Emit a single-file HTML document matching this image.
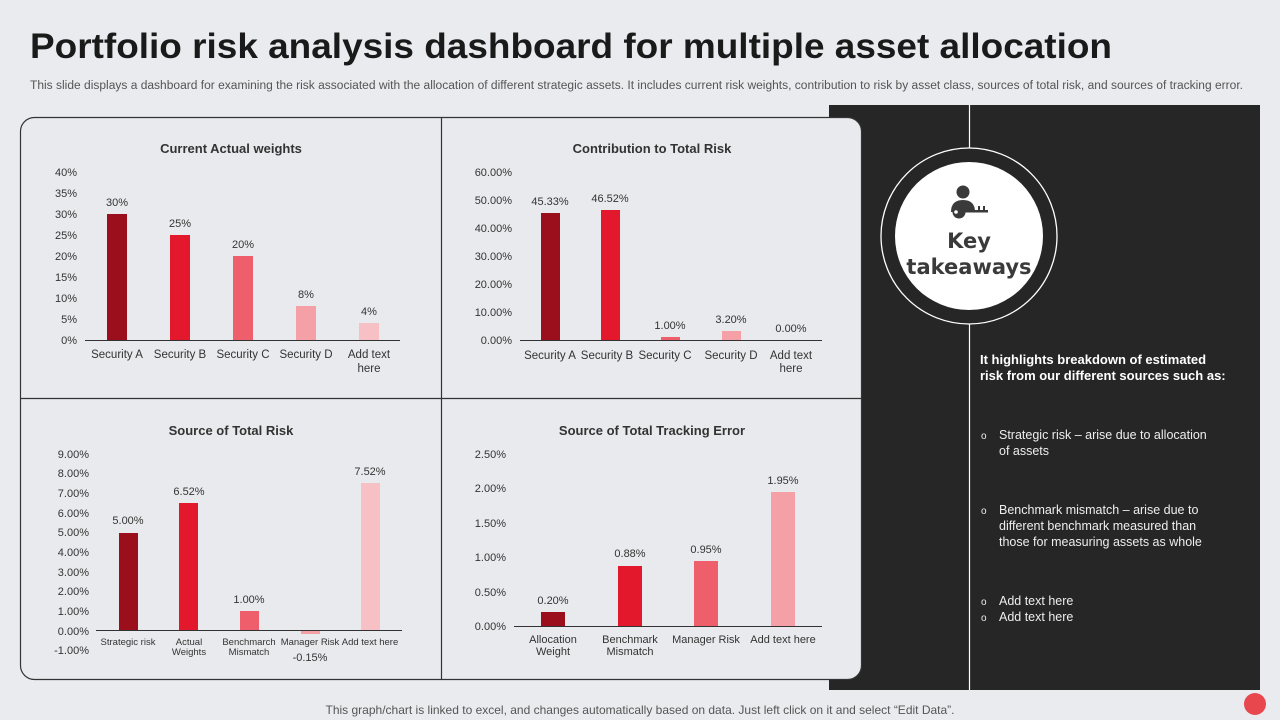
<!DOCTYPE html>
<html><head><meta charset="utf-8"><style>
html,body{margin:0;padding:0;background:#e9ebee;width:1280px;height:720px;overflow:hidden}
svg{display:block}
</style></head><body>
<svg width="1280" height="720" xmlns="http://www.w3.org/2000/svg" font-family="Liberation Sans, Arial, sans-serif">
<rect width="1280" height="720" fill="#e9ebee"/>
<text x="30" y="58" font-size="35" font-weight="bold" fill="#1a1a1a" textLength="1082" lengthAdjust="spacingAndGlyphs">Portfolio risk analysis dashboard for multiple asset allocation</text>
<text x="30" y="89" font-size="11.5" fill="#555" textLength="1213" lengthAdjust="spacingAndGlyphs">This slide displays a dashboard for examining the risk associated with the allocation of different strategic assets. It includes current risk weights, contribution to risk by asset class, sources of total risk, and sources of tracking error.</text>
<rect x="829" y="105" width="431" height="585" fill="#262626"/>
<line x1="969.5" y1="105" x2="969.5" y2="690" stroke="#fff" stroke-width="1.2"/>
<circle cx="969" cy="236" r="88" fill="#262626" stroke="#fff" stroke-width="1.3"/>
<circle cx="969" cy="236" r="74" fill="#fff"/>
<circle cx="963" cy="192" r="6.5" fill="#3a3a3a"/>
<path d="M951 212 q0-12 12-12 q12 0 12 12 z" fill="#3a3a3a"/>
<circle cx="959" cy="212" r="6.5" fill="#3a3a3a"/>
<circle cx="956" cy="212" r="1.8" fill="#fff"/>
<rect x="964" y="210" width="24" height="2.5" fill="#3a3a3a"/>
<rect x="978" y="206" width="2" height="5" fill="#3a3a3a"/><rect x="983" y="206" width="2" height="5" fill="#3a3a3a"/>
<text x="969" y="248" font-size="21" font-weight="bold" fill="#3a3a3a" text-anchor="middle" font-family="DejaVu Sans, sans-serif">Key</text>
<text x="969" y="274" font-size="21" font-weight="bold" fill="#3a3a3a" text-anchor="middle" font-family="DejaVu Sans, sans-serif">takeaways</text>
<g font-size="13" fill="#fff" font-weight="bold">
<text x="980" y="364">It highlights breakdown of estimated</text>
<text x="980" y="380">risk from our different sources such as:</text>
</g>
<g font-size="12.5" fill="#eee">
<text x="981" y="439" font-size="10">o</text><text x="999" y="439">Strategic risk – arise due to allocation</text>
<text x="999" y="455">of assets</text>
<text x="981" y="514" font-size="10">o</text><text x="999" y="514">Benchmark mismatch – arise due to</text>
<text x="999" y="530">different benchmark measured than</text>
<text x="999" y="546">those for measuring assets as whole</text>
<text x="981" y="605" font-size="10">o</text><text x="999" y="605">Add text here</text>
<text x="981" y="621" font-size="10">o</text><text x="999" y="621">Add text here</text>
</g>
<rect x="20.5" y="117.5" width="841" height="562" rx="14" fill="#e8eaed" stroke="#333" stroke-width="1.2"/>
<line x1="441.5" y1="117" x2="441.5" y2="680" stroke="#333" stroke-width="1.2"/>
<line x1="21" y1="398.5" x2="861" y2="398.5" stroke="#333" stroke-width="1.2"/>

<g font-size="11" fill="#333">
<text x="231" y="153" font-size="13" font-weight="bold" text-anchor="middle">Current Actual weights</text>
<g text-anchor="end">
<text x="77" y="176">40%</text><text x="77" y="197">35%</text><text x="77" y="218">30%</text><text x="77" y="239">25%</text><text x="77" y="260">20%</text><text x="77" y="281">15%</text><text x="77" y="302">10%</text><text x="77" y="323">5%</text><text x="77" y="344">0%</text>
</g>
<rect x="107" y="214" width="20" height="126" fill="#9b0e1c"/>
<rect x="170" y="235" width="20" height="105" fill="#e3182d"/>
<rect x="233" y="256" width="20" height="84" fill="#ef5f6b"/>
<rect x="296" y="306" width="20" height="34" fill="#f4a0a6"/>
<rect x="359" y="323" width="20" height="17" fill="#f7c0c4"/>
<line x1="85" y1="340.5" x2="400" y2="340.5" stroke="#333"/>
<g text-anchor="middle">
<text x="117" y="206">30%</text><text x="180" y="227">25%</text><text x="243" y="248">20%</text><text x="306" y="298">8%</text><text x="369" y="315">4%</text>
<g font-size="11.5"><text x="117" y="358">Security A</text><text x="180" y="358">Security B</text><text x="243" y="358">Security C</text><text x="306" y="358">Security D</text><text x="369" y="358">Add text</text><text x="369" y="372">here</text></g>
</g>
</g>

<g font-size="11" fill="#333">
<text x="652" y="153" font-size="13" font-weight="bold" text-anchor="middle">Contribution  to Total Risk</text>
<g text-anchor="end">
<text x="512" y="176">60.00%</text><text x="512" y="204">50.00%</text><text x="512" y="232">40.00%</text><text x="512" y="260">30.00%</text><text x="512" y="288">20.00%</text><text x="512" y="316">10.00%</text><text x="512" y="344">0.00%</text>
</g>
<rect x="541" y="213" width="19" height="127" fill="#9b0e1c"/>
<rect x="601" y="210" width="19" height="130" fill="#e3182d"/>
<rect x="661" y="337" width="19" height="3" fill="#ef5f6b"/>
<rect x="722" y="331" width="19" height="9" fill="#f4a0a6"/>
<line x1="520" y1="340.5" x2="822" y2="340.5" stroke="#333"/>
<g text-anchor="middle">
<text x="550" y="205">45.33%</text><text x="610" y="202">46.52%</text><text x="670" y="329">1.00%</text><text x="731" y="323">3.20%</text><text x="791" y="332">0.00%</text>
<g font-size="11.5"><text x="550" y="359">Security A</text><text x="607" y="359">Security B</text><text x="665" y="359">Security C</text><text x="731" y="359">Security D</text><text x="791" y="359">Add text</text><text x="791" y="372">here</text></g>
</g>
</g>

<g font-size="11" fill="#333">
<text x="231" y="435" font-size="13" font-weight="bold" text-anchor="middle">Source of Total Risk</text>
<g text-anchor="end">
<text x="89" y="458">9.00%</text><text x="89" y="477">8.00%</text><text x="89" y="497">7.00%</text><text x="89" y="517">6.00%</text><text x="89" y="536">5.00%</text><text x="89" y="556">4.00%</text><text x="89" y="576">3.00%</text><text x="89" y="595">2.00%</text><text x="89" y="615">1.00%</text><text x="89" y="635">0.00%</text><text x="89" y="654">-1.00%</text>
</g>
<rect x="119" y="533" width="19" height="97" fill="#9b0e1c"/>
<rect x="179" y="503" width="19" height="127" fill="#e3182d"/>
<rect x="240" y="611" width="19" height="19" fill="#ef5f6b"/>
<rect x="301" y="630" width="19" height="4" fill="#f4a0a6"/>
<rect x="361" y="483" width="19" height="147" fill="#f7c0c4"/>
<line x1="96" y1="630.5" x2="402" y2="630.5" stroke="#333"/>
<g text-anchor="middle">
<text x="128" y="524">5.00%</text><text x="189" y="495">6.52%</text><text x="249" y="603">1.00%</text><text x="370" y="475">7.52%</text><text x="310" y="661">-0.15%</text>
<g font-size="9.5"><text x="128" y="645">Strategic risk</text><text x="189" y="645">Actual</text><text x="189" y="655">Weights</text><text x="249" y="645">Benchmarch</text><text x="249" y="655">Mismatch</text><text x="310" y="645">Manager Risk</text><text x="370" y="645">Add text here</text></g>
</g>
</g>

<g font-size="11" fill="#333">
<text x="652" y="435" font-size="13" font-weight="bold" text-anchor="middle">Source of Total Tracking Error</text>
<g text-anchor="end">
<text x="506" y="458">2.50%</text><text x="506" y="492">2.00%</text><text x="506" y="527">1.50%</text><text x="506" y="561">1.00%</text><text x="506" y="596">0.50%</text><text x="506" y="630">0.00%</text>
</g>
<rect x="541" y="612" width="24" height="14" fill="#9b0e1c"/>
<rect x="618" y="566" width="24" height="60" fill="#e3182d"/>
<rect x="694" y="561" width="24" height="65" fill="#ef5f6b"/>
<rect x="771" y="492" width="24" height="134" fill="#f4a0a6"/>
<line x1="514" y1="626.5" x2="822" y2="626.5" stroke="#333"/>
<g text-anchor="middle">
<text x="553" y="604">0.20%</text><text x="630" y="557">0.88%</text><text x="706" y="553">0.95%</text><text x="783" y="484">1.95%</text>
<text x="553" y="643">Allocation</text><text x="553" y="655">Weight</text><text x="630" y="643">Benchmark</text><text x="630" y="655">Mismatch</text><text x="706" y="643">Manager Risk</text><text x="783" y="643">Add text here</text>
</g>
</g>

<text x="640" y="714" font-size="12" fill="#555" text-anchor="middle">This graph/chart is linked to excel,  and changes automatically based on data. Just left click on it and select “Edit Data”.</text>
<circle cx="1255" cy="704" r="11" fill="#e8474d"/>
</svg>
</body></html>
